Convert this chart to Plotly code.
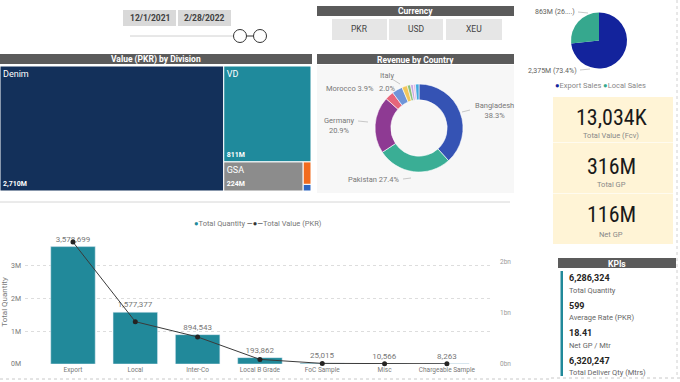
import plotly.graph_objects as go

W, H = 680, 382


def px(x):
    return x / W


def py(y):
    return 1 - y / H


# ---------------- data ----------------
date_range = ["12/1/2021", "2/28/2022"]
currencies = ["PKR", "USD", "XEU"]

divisions = ["Denim", "VD", "GSA", "Home", "Yarn"]
division_value_m = [2710, 811, 224, 17, 5]
division_colors = ["#13305A", "#1F8A9C", "#8C8C8C", "#F26B1D", "#2E66C1"]

countries = ["Bangladesh", "Pakistan", "Germany", "Spain", "Morocco", "Italy",
             "Turkey", "USA", "UK", "Netherlands"]
country_share = [38.3, 27.4, 20.9, 3.2, 3.9, 2.0, 1.2, 1.0, 0.8, 1.3]
country_colors = ["#3553B4", "#3AAE95", "#8E3A93", "#E6657A", "#6F95D8", "#F2C75C",
                  "#8CC17A", "#C3A5E0", "#E7B9E3", "#41A9E0"]

sales_types = ["Export Sales", "Local Sales"]
sales_value_m = [2375, 863]
sales_pct = [73.4, 26.6]
sales_colors = ["#13239C", "#36A88E"]

kpi_card_values = ["13,034K", "316M", "116M"]
kpi_card_labels = ["Total Value (Fcv)", "Total GP", "Net GP"]

kpi_values = ["6,286,324", "599", "18.41", "6,320,247"]
kpi_labels = ["Total Quantity", "Average Rate (PKR)", "Net GP / Mtr", "Total Deliver Qty (Mtrs)"]

channels = ["Export", "Local", "Inter-Co", "Local B Grade", "FoC Sample", "Misc", "Chargeable Sample"]
total_quantity = [3578699, 1577377, 894543, 193862, 25015, 10566, 8263]
total_value_pkr = [2.39e9, 0.83e9, 0.53e9, 0.09e9, 0.012e9, 0.007e9, 0.005e9]
qty_ticks = [0, 1e6, 2e6, 3e6]
qty_ticktext = ["0M", "1M", "2M", "3M"]
val_ticks = [0, 1e9, 2e9]
val_ticktext = ["0bn", "1bn", "2bn"]

FONT = "Roboto"
NARROW = "Liberation Sans Narrow, Roboto Condensed, DejaVu Sans Condensed, Roboto"
GREY = "#777777"
HEAD = "#5B5B5B"
BAR = "#21899A"

fig = go.Figure()

# ---------------- treemap ----------------
fig.add_trace(go.Treemap(
    labels=divisions, parents=[""] * len(divisions), values=division_value_m,
    marker=dict(colors=division_colors, line=dict(color="white", width=1),
                pad=dict(t=0, l=0, r=0, b=0)),
    text=[d if v > 100 else "" for d, v in zip(divisions, division_value_m)],
    texttemplate="%{text}", textposition="top left",
    textfont=dict(family=FONT, size=9, color="white"),
    tiling=dict(packing="squarify", pad=0), pathbar=dict(visible=False),
    sort=False, hoverinfo="label+value",
    domain=dict(x=[px(0), px(311)], y=[py(191), py(66)]),
))
fig.add_trace(go.Treemap(
    labels=divisions, parents=[""] * len(divisions), values=division_value_m,
    marker=dict(colors=["rgba(0,0,0,0)"] * len(divisions), line=dict(width=0),
                pad=dict(t=0, l=0, r=0, b=0)),
    text=[f"<b>{v:,}M</b>" if v > 100 else "" for v in division_value_m],
    texttemplate="%{text}", textposition="bottom left",
    textfont=dict(family=FONT, size=7, color="white"),
    tiling=dict(packing="squarify", pad=0), pathbar=dict(visible=False),
    sort=False, hoverinfo="skip",
    domain=dict(x=[px(0), px(311)], y=[py(191), py(66)]),
))

# ---------------- donut ----------------
fig.add_trace(go.Pie(
    labels=countries, values=country_share, hole=0.64, sort=False,
    direction="clockwise", rotation=0,
    marker=dict(colors=country_colors, line=dict(color="white", width=0.6)),
    textinfo="none", showlegend=False,
    domain=dict(x=[px(375), px(463)], y=[py(173), py(83)]),
))

# ---------------- top pie ----------------
fig.add_trace(go.Pie(
    labels=sales_types, values=sales_value_m, sort=False,
    direction="clockwise", rotation=0,
    marker=dict(colors=sales_colors), textinfo="none", showlegend=False,
    domain=dict(x=[px(571), px(627)], y=[py(69), py(12)]),
))

# ---------------- combo chart ----------------
fig.add_trace(go.Bar(
    x=channels, y=total_quantity, name="Total Quantity",
    marker=dict(color=BAR),
    text=[f"{v:,}" for v in total_quantity], textposition="outside",
    textfont=dict(family=FONT, size=8, color=GREY), cliponaxis=False,
    constraintext="none", showlegend=False,
))
fig.add_trace(go.Scatter(
    x=channels, y=total_value_pkr, name="Total Value (PKR)", yaxis="y2",
    mode="lines+markers", line=dict(color="#3A3A3A", width=1),
    marker=dict(size=5, color="#252423"), cliponaxis=False, showlegend=False,
))

shapes = []
annotations = []


def rect(x0, y0, x1, y1, fill, line=None, lw=0, layer="below"):
    shapes.append(dict(type="rect", xref="paper", yref="paper",
                       x0=px(x0), x1=px(x1), y0=py(y1), y1=py(y0),
                       fillcolor=fill, line=dict(color=line or fill, width=lw), layer=layer))


def line(x0, y0, x1, y1, color, width=1, dash="solid", layer="above"):
    shapes.append(dict(type="line", xref="paper", yref="paper",
                       x0=px(x0), x1=px(x1), y0=py(y0), y1=py(y1),
                       line=dict(color=color, width=width, dash=dash), layer=layer))


def text(x, y, s, size=8, color=GREY, xanchor="left", family=FONT):
    annotations.append(dict(xref="paper", yref="paper", x=px(x), y=py(y), text=s,
                            showarrow=False, xanchor=xanchor, yanchor="middle",
                            font=dict(family=family, size=size, color=color)))


def header(x0, x1, y0, y1, s):
    rect(x0, y0, x1, y1, HEAD)
    text((x0 + x1) / 2, (y0 + y1) / 2 + 0.5, f"<b>{s}</b>", size=8.5, color="white", xanchor="center")


# date slicer
for (x0, x1), d in zip([(123, 176), (178, 231)], date_range):
    rect(x0, 10, x1, 26, "#D9D9D9")
    text((x0 + x1) / 2, 18, f"<b>{d}</b>", size=8.5, color="#404040", xanchor="center")
line(130, 36, 234, 36, "#D0D0D0", 1)
line(246, 36, 254, 36, "#333333", 1)
for cx in (240, 260):
    shapes.append(dict(type="circle", xref="paper", yref="paper",
                       x0=px(cx - 6.5), x1=px(cx + 6.5), y0=py(36 + 6.5), y1=py(36 - 6.5),
                       fillcolor="white", line=dict(color="#333333", width=1)))

# currency slicer
header(317, 514, 6, 16, "Currency")
for (x0, x1), c in zip([(332, 387), (389, 443), (446, 502)], currencies):
    rect(x0, 19, x1, 40, "#E6E6E6")
    text((x0 + x1) / 2, 29.5, c, size=8.5, color="#444444", xanchor="center")

# panel headers
header(0, 312, 54, 64, "Value (PKR) by Division")
header(317, 514, 54, 64, "Revenue by Country")
rect(317, 65, 514, 193, "#F7F7F7")

# donut labels
text(473, 110, "Bangladesh<br>38.3%", size=7.5)
line(462, 112, 470, 110, "#BBBBBB", 0.8)
text(401, 180, "Pakistan 27.4%", size=7.5, xanchor="right")
line(403, 179, 411, 178, "#BBBBBB", 0.8)
text(356, 126, "Germany<br>20.9%", size=7.5, xanchor="right")
line(358, 121, 368, 122, "#BBBBBB", 0.8)
text(376, 88, "Morocco 3.9%", size=7.5, xanchor="right")
text(377, 88, "2.0%", size=7.5)
text(378, 75, "Italy", size=7.5)
line(392, 79, 400, 84, "#BBBBBB", 0.8)

# top pie labels
text(577, 12, f"{sales_value_m[1]:,}M ({int(sales_pct[1])}....)", size=7, color="#605E5C", xanchor="right")
line(578, 12, 588, 13, "#BBBBBB", 0.8)
text(579, 71, f"{sales_value_m[0]:,}M ({sales_pct[0]:.1f}%)", size=7, color="#605E5C", xanchor="right")
line(580, 70, 590, 69, "#BBBBBB", 0.8)
text(553, 86, " ".join(f"<span style='color:{c}'>●</span>{s}" for s, c in zip(sales_types, sales_colors)),
     size=7.5, color="#888888")

# combo legend
text(192, 224, f"<span style='color:{BAR}'>●</span>Total Quantity "
               f"<span style='color:#333333'>—●—</span>Total Value (PKR)", size=7.5, color=GREY)

# KPI cards
rect(553, 97, 673, 244, "#FFF4D6")
line(553, 142.5, 673, 142.5, "#FFFBEF", 1)
line(553, 193.5, 673, 193.5, "#FFFBEF", 1)
for i, (v, lab) in enumerate(zip(kpi_card_values, kpi_card_labels)):
    text(611, [117, 166, 215][i], v, size=22, color="#1A1A1A", xanchor="center", family=NARROW)
    text(611, [136, 185, 234][i], lab, size=7.5, color="#888888", xanchor="center")

# KPIs panel
header(558, 676, 258, 268, "KPIs")
rect(560.5, 271, 563, 376, BAR)
for i, (v, lab) in enumerate(zip(kpi_values, kpi_labels)):
    y0 = 278 + i * 27.5
    text(567, y0, f"<b>{v}</b>", size=9, color="#252423")
    text(567, y0 + 12, lab, size=7.5, color="#666666")

# separators
line(0, 202, 510, 202, "#D6D6D6", 1)
line(0, 379, 549, 379, "#C8C8C8", 1, "dot")
line(551, 378, 680, 378, "#C8C8C8", 1, "dot")
line(677, 0, 677, 378, "#D0D0D0", 1, "dot")

fig.update_layout(
    width=W, height=H, margin=dict(l=0, r=0, t=0, b=0, pad=0, autoexpand=False),
    paper_bgcolor="white", plot_bgcolor="rgba(0,0,0,0)",
    font=dict(family=FONT, color=GREY),
    bargap=0.286,
    shapes=shapes, annotations=annotations,
    showlegend=False,
    xaxis=dict(domain=[px(25), px(493)], range=[-0.77, 6.74], showgrid=False, zeroline=False,
               showline=False, ticks="", tickfont=dict(size=6.5, color=GREY), anchor="y",
               automargin=False),
    yaxis=dict(domain=[py(364), py(240)], range=[0, 3.78e6], tickvals=qty_ticks, ticktext=qty_ticktext,
               showgrid=True, gridcolor="#DDDDDD", griddash="dot", zeroline=False, showline=False,
               tickfont=dict(size=7, color=GREY), ticklabelstandoff=3, automargin=False,
               title=dict(text="Total Quantity", font=dict(size=8, color=GREY), standoff=4)),
    yaxis2=dict(overlaying="y", side="right", range=[0, 2.43e9], tickvals=val_ticks, ticktext=val_ticktext,
                showgrid=False, zeroline=False, showline=False, tickfont=dict(size=6.5, color="#999999"),
                anchor="x", ticklabelstandoff=6, automargin=False),
)

fig.write_html(
    "out.html",
    config={"displayModeBar": False},
    post_script=(
        "document.documentElement.style.margin='0px';"
        "document.documentElement.style.overflow='hidden';"
        "document.body.style.margin='0px';document.body.style.padding='0px';"
        "document.body.style.overflow='hidden';"
    ),
)
